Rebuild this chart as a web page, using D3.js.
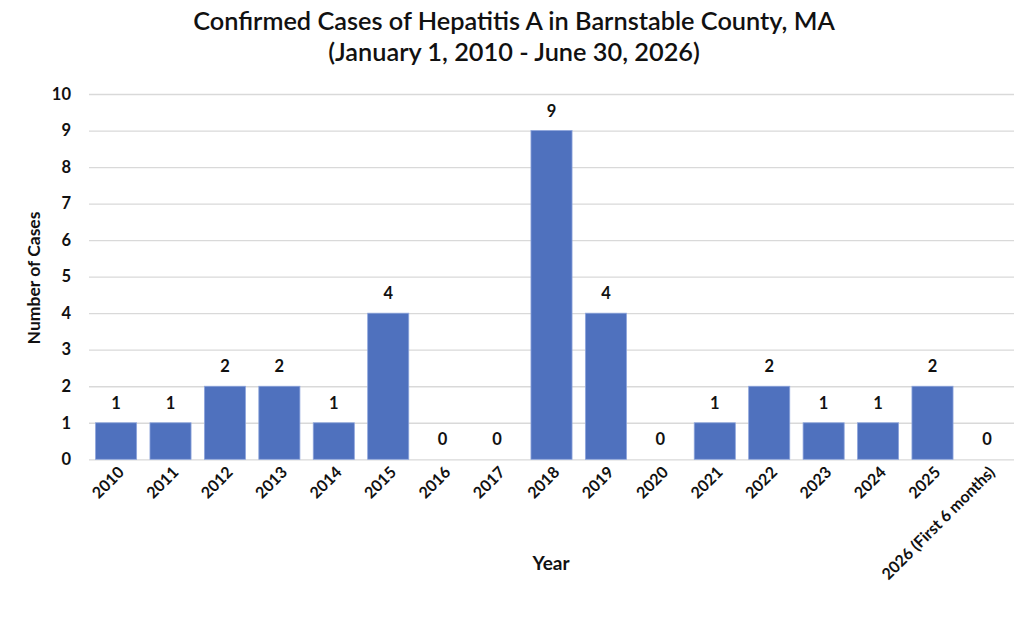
<!DOCTYPE html>
<html><head><meta charset="utf-8">
<script src="https://cdn.jsdelivr.net/npm/d3@7"></script>
<style>
html,body{margin:0;padding:0;background:#fff;}
svg text{font-family:Lato,"Open Sans",sans-serif;fill:#111;}
</style></head>
<body><svg id="chart" width="1024" height="629"></svg>
<script>
const categories = ["2010","2011","2012","2013","2014","2015","2016","2017","2018","2019","2020","2021","2022","2023","2024","2025","2026 (First 6 months)"];
const cases = [1,1,2,2,1,4,0,0,9,4,0,1,2,1,1,2,0];
const yTicks = [0,1,2,3,4,5,6,7,8,9,10];
const titleLines = ["Confirmed Cases of Hepatitis A in Barnstable County, MA","(January 1, 2010 - June 30, 2026)"];
const yTitle = "Number of Cases";
const xTitle = "Year";

const svg = d3.select("#chart");
const m = {left:89, right:1014, top:94, bottom:459.3};
const x = d3.scaleBand().domain(categories).range([m.left, m.right]).paddingInner(0.245).paddingOuter(0.12);
const y = d3.scaleLinear().domain([0,10]).range([m.bottom, m.top]);

// gridlines
const yAxis = d3.axisLeft(y).tickValues(yTicks).tickSize(-(m.right - m.left)).tickPadding(18).tickFormat(d3.format("d"));
const gy = svg.append("g").attr("transform",`translate(${m.left},0)`).call(yAxis);
gy.select(".domain").remove();
gy.selectAll(".tick line").attr("stroke","#d9d9d9").attr("stroke-width",1.3);
gy.selectAll(".tick text").attr("font-size",16.5).attr("font-weight","bold").attr("fill","#111");

// bars
svg.append("g").selectAll("rect").data(categories).join("rect")
  .attr("x", d => x(d)).attr("width", x.bandwidth())
  .attr("y", (d,i) => y(cases[i])).attr("height", (d,i) => y(0) - y(cases[i]))
  .attr("fill","#4f71be").attr("stroke","#8ea5dc").attr("stroke-width",0.8);

// data labels
svg.append("g").selectAll("text").data(categories).join("text")
  .attr("x", d => x(d) + x.bandwidth()/2)
  .attr("y", (d,i) => y(cases[i]) - 14)
  .attr("text-anchor","middle").attr("font-size",16.5).attr("font-weight","bold")
  .text((d,i) => cases[i]);

// x axis labels
const xAxis = d3.axisBottom(x).tickSize(0).tickPadding(0);
const gx = svg.append("g").attr("transform",`translate(0,${m.bottom})`).call(xAxis);
gx.select(".domain").remove();
gx.selectAll(".tick text")
  .attr("font-size",16).attr("font-weight","bold").attr("fill","#111")
  .attr("text-anchor","end").attr("dy",0).attr("dx",0)
  .attr("transform","translate(9,14) rotate(-45)");

// axis titles
svg.append("text").attr("transform","translate(40,278) rotate(-90)")
  .attr("text-anchor","middle").attr("font-size",17.5).attr("font-weight","bold").text(yTitle);
svg.append("text").attr("x",551).attr("y",570)
  .attr("text-anchor","middle").attr("font-size",19).attr("font-weight","bold").text(xTitle);

// title
const titleTargets = [642, 372];
titleLines.forEach((t,i) => {
  const el = svg.append("text").attr("x",514).attr("y", 30 + i*31)
    .attr("text-anchor","middle").attr("font-size",24).attr("font-weight","600").text(t);
  const w = el.node().getComputedTextLength();
  el.attr("font-size", 24 * titleTargets[i] / w);
});
</script></body></html>
